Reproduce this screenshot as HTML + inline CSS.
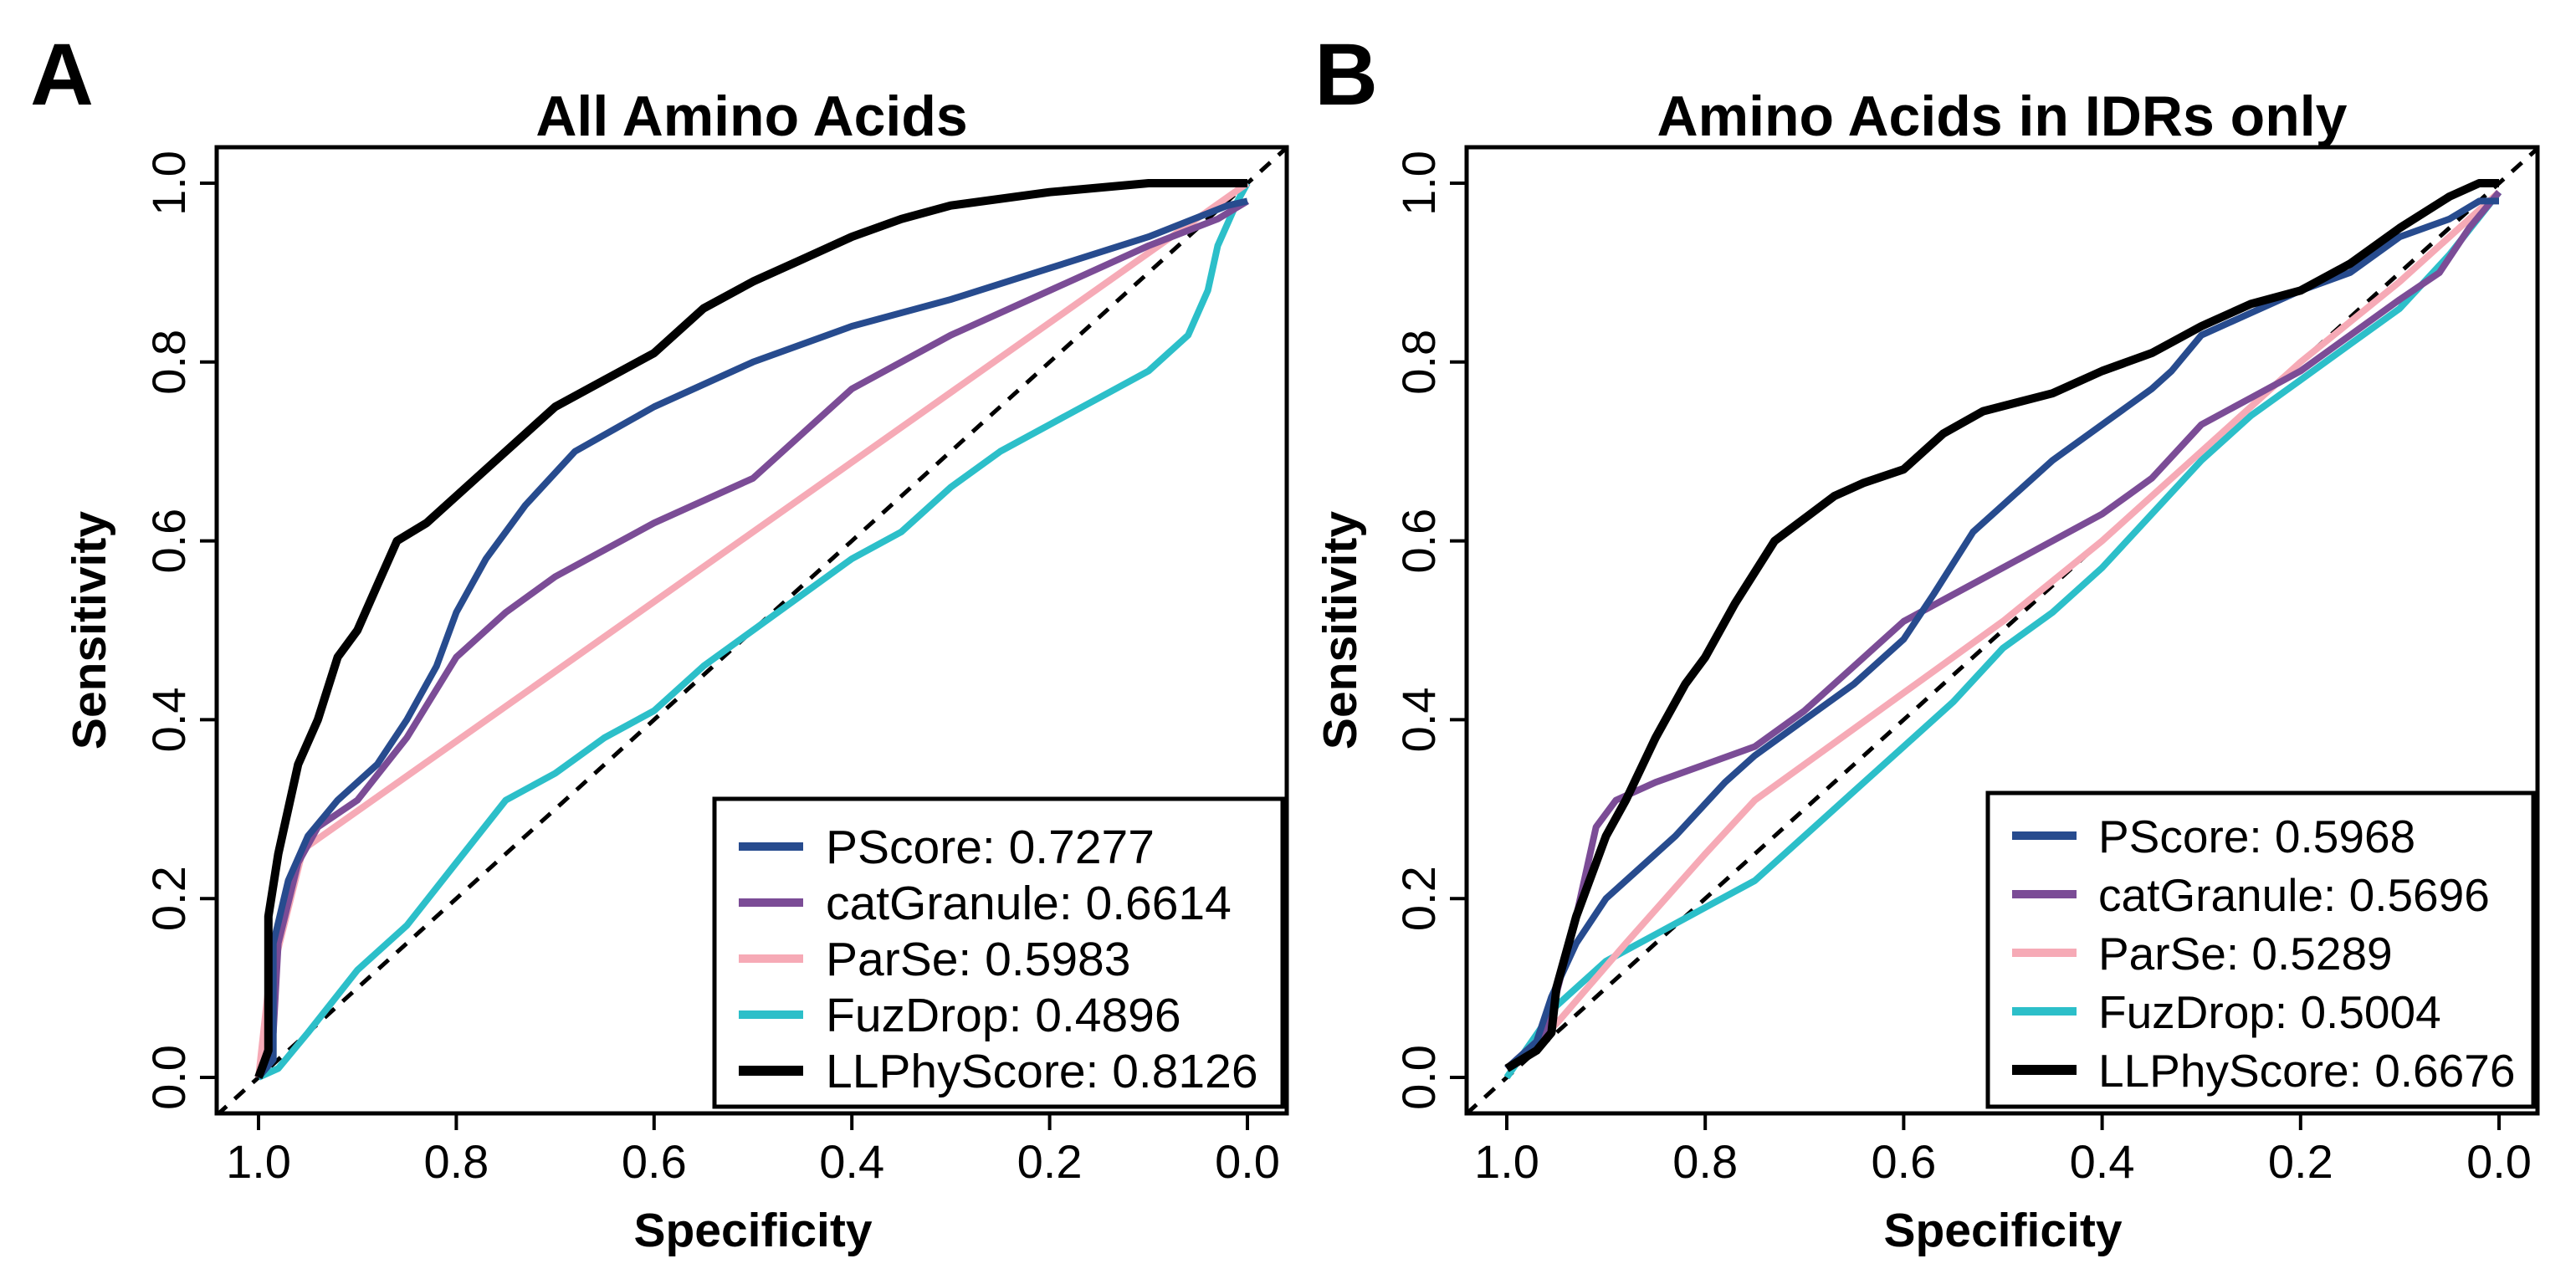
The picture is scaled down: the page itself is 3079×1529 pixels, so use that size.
<!DOCTYPE html>
<html><head><meta charset="utf-8"><style>
html,body{margin:0;padding:0;background:#fff;}
svg{display:block;font-family:"Liberation Sans",Arial,sans-serif;}
</style></head><body>
<svg id="fig" width="3079" height="1529" viewBox="0 0 3079 1529"></svg>
<script>
// ---- data ----
const tickVals = [1.0, 0.8, 0.6, 0.4, 0.2, 0.0];
const tickLabels = ["1.0","0.8","0.6","0.4","0.2","0.0"];
const seriesNames = ["PScore","catGranule","ParSe","FuzDrop","LLPhyScore"];
const seriesColors = ["#274b8e","#7b4c96","#f6aab6","#2cbfc9","#000000"];
const aucA = ["0.7277","0.6614","0.5983","0.4896","0.8126"];
const aucB = ["0.5968","0.5696","0.5289","0.5004","0.6676"];
// Panel A (specificity, sensitivity)
const A_PScore_spec = [1,0.985,0.985,0.97,0.95,0.92,0.88,0.85,0.82,0.80,0.77,0.73,0.68,0.60,0.50,0.40,0.30,0.20,0.10,0.02,0];
const A_PScore_sens = [0,0.02,0.15,0.22,0.27,0.31,0.35,0.40,0.46,0.52,0.58,0.64,0.70,0.75,0.80,0.84,0.87,0.905,0.94,0.975,0.98];
const A_cat_spec = [1,0.985,0.98,0.96,0.94,0.90,0.85,0.80,0.75,0.70,0.60,0.50,0.45,0.40,0.30,0.20,0.10,0.03,0];
const A_cat_sens = [0,0.05,0.15,0.24,0.28,0.31,0.38,0.47,0.52,0.56,0.62,0.67,0.72,0.77,0.83,0.88,0.93,0.96,0.98];
const A_parse_spec = [1,0.99,0.955,0];
const A_parse_sens = [0,0.1,0.255,1.0];
const A_fuz_spec = [1,0.98,0.95,0.90,0.85,0.80,0.75,0.70,0.65,0.60,0.55,0.50,0.45,0.40,0.35,0.30,0.25,0.20,0.15,0.10,0.06,0.04,0.03,0.01,0];
const A_fuz_sens = [0,0.01,0.05,0.12,0.17,0.24,0.31,0.34,0.38,0.41,0.46,0.50,0.54,0.58,0.61,0.66,0.70,0.73,0.76,0.79,0.83,0.88,0.93,0.98,1.0];
const A_ll_spec = [1,0.99,0.99,0.98,0.96,0.94,0.92,0.90,0.88,0.86,0.83,0.80,0.75,0.70,0.65,0.60,0.55,0.50,0.45,0.40,0.35,0.30,0.20,0.10,0];
const A_ll_sens = [0,0.03,0.18,0.25,0.35,0.40,0.47,0.50,0.55,0.60,0.62,0.65,0.70,0.75,0.78,0.81,0.86,0.89,0.915,0.94,0.96,0.975,0.99,1.0,1.0];
// Panel B
const B_PScore_spec = [1,0.97,0.955,0.93,0.90,0.87,0.83,0.78,0.75,0.70,0.65,0.60,0.57,0.53,0.50,0.45,0.40,0.35,0.33,0.30,0.20,0.15,0.10,0.05,0.02,0];
const B_PScore_sens = [0.01,0.04,0.09,0.15,0.20,0.23,0.27,0.33,0.36,0.40,0.44,0.49,0.54,0.61,0.64,0.69,0.73,0.77,0.79,0.83,0.88,0.90,0.94,0.96,0.98,0.98];
const B_cat_spec = [1,0.96,0.93,0.91,0.89,0.85,0.80,0.75,0.70,0.65,0.60,0.55,0.50,0.45,0.40,0.35,0.30,0.25,0.20,0.15,0.10,0.06,0.03,0];
const B_cat_sens = [0.01,0.05,0.18,0.28,0.31,0.33,0.35,0.37,0.41,0.46,0.51,0.54,0.57,0.60,0.63,0.67,0.73,0.76,0.79,0.83,0.87,0.90,0.95,0.99];
const B_parse_spec = [1,0.95,0.88,0.80,0.75,0.60,0.50,0.40,0.30,0.20,0.10,0];
const B_parse_sens = [0.01,0.06,0.15,0.25,0.31,0.43,0.51,0.60,0.70,0.80,0.89,0.99];
const B_fuz_spec = [1,0.95,0.90,0.85,0.80,0.75,0.70,0.65,0.60,0.55,0.50,0.45,0.40,0.35,0.30,0.25,0.20,0.15,0.10,0.05,0];
const B_fuz_sens = [0,0.08,0.13,0.16,0.19,0.22,0.27,0.32,0.37,0.42,0.48,0.52,0.57,0.63,0.69,0.74,0.78,0.82,0.86,0.92,0.99];
const B_ll_spec = [1,0.97,0.955,0.95,0.93,0.90,0.88,0.85,0.82,0.80,0.77,0.73,0.70,0.67,0.64,0.60,0.56,0.52,0.45,0.40,0.35,0.30,0.25,0.20,0.15,0.10,0.05,0.02,0];
const B_ll_sens = [0.01,0.03,0.05,0.10,0.18,0.27,0.31,0.38,0.44,0.47,0.53,0.60,0.625,0.65,0.665,0.68,0.72,0.745,0.765,0.79,0.81,0.84,0.865,0.88,0.91,0.95,0.985,1.0,1.0];

const NS = "http://www.w3.org/2000/svg";
const svg = document.getElementById("fig");
function mk(tag, attrs, parent){const e=document.createElementNS(NS,tag);for(const k in attrs)e.setAttribute(k,attrs[k]);(parent||svg).appendChild(e);return e;}

function panel(cfg){
  const g = mk("g",{});
  
  
  const X = v => cfg.x0 + (1 - v) * (cfg.x1 - cfg.x0);
  const Y = v => cfg.y0 - v * (cfg.y0 - cfg.y1);
  const L = mk("text",{x:cfg.letterX,y:125,"font-size":105,"font-weight":"bold","text-anchor":"middle"},g);
  L.textContent = cfg.letter;
  
  
  const T = mk("text",{x:(cfg.bl+cfg.br)/2,y:162,"font-size":68,"font-weight":"bold","text-anchor":"middle"},g);
  T.textContent = cfg.title;
  
  
  const cid = "clip"+cfg.letter;
  const cp = mk("clipPath",{id:cid},g);
  mk("rect",{x:cfg.bl,y:cfg.bt,width:cfg.br-cfg.bl,height:cfg.bb-cfg.bt},cp);
  const sL = 1 + (cfg.x0 - cfg.bl)/(cfg.x1-cfg.x0), sR = -(cfg.br - cfg.x1)/(cfg.x1-cfg.x0);
  const d = mk("line",{x1:X(sL),y1:Y(1-sL),x2:X(sR),y2:Y(1-sR),stroke:"#000","stroke-width":5,"stroke-dasharray":"16,13","clip-path":"url(#"+cid+")"},g);
  
  
  const order = [3,2,1,0,4];
  order.forEach(i=>{
    const sp = cfg.specs[i], se = cfg.sens[i];
    const pts = sp.map((s,j)=>X(s).toFixed(1)+","+Y(se[j]).toFixed(1)).join(" ");
    const p = mk("polyline",{points:pts,fill:"none",stroke:seriesColors[i],"stroke-width":i==4?10:8,"stroke-linejoin":"round","clip-path":"url(#"+cid+")"},g);
    
    
  });
  const f = mk("rect",{x:cfg.bl,y:cfg.bt,width:cfg.br-cfg.bl,height:cfg.bb-cfg.bt,fill:"none",stroke:"#000","stroke-width":5},g);
  
  
  tickVals.forEach((v,i)=>{
    const t = mk("line",{x1:X(v),y1:cfg.bb,x2:X(v),y2:cfg.bb+20,stroke:"#000","stroke-width":4},g);
    
    
    const tl = mk("text",{x:X(v),y:1408,"font-size":56,"text-anchor":"middle"},g);
    tl.textContent = tickLabels[i];
    
    
    const yt = mk("line",{x1:cfg.bl-20,y1:Y(v),x2:cfg.bl,y2:Y(v),stroke:"#000","stroke-width":4},g);
    
    
    const yl = mk("text",{x:0,y:0,"font-size":56,"text-anchor":"middle",transform:"translate("+(cfg.bl-38)+","+Y(v)+") rotate(-90)"},g);
    yl.textContent = tickLabels[i];
    
    
  });
  const xt = mk("text",{x:(cfg.x0+cfg.x1)/2,y:1490,"font-size":57,"font-weight":"bold","text-anchor":"middle"},g);
  xt.textContent = "Specificity";
  
  
  const yt = mk("text",{x:0,y:0,"font-size":57,"font-weight":"bold","text-anchor":"middle",transform:"translate("+cfg.ytX+","+(cfg.y0+cfg.y1)/2+") rotate(-90)"},g);
  yt.textContent = "Sensitivity";
  
  
  const lg = mk("g",{},g);
  
  
  const lr = mk("rect",{x:cfg.lx,y:cfg.ly,width:cfg.lw,height:cfg.lh,fill:"#fff",stroke:"#000","stroke-width":5},lg);
  
  
  seriesNames.forEach((n,i)=>{
    const yy = cfg.ly0 + i*cfg.lstep;
    const ls = mk("line",{x1:cfg.lx+29,y1:yy,x2:cfg.lx+106,y2:yy,stroke:seriesColors[i],"stroke-width":i==4?12:10},lg);
    
    
    const lt = mk("text",{x:cfg.lx+cfg.ltx,y:yy+20,"font-size":cfg.lfs},lg);
    lt.textContent = n + ": " + cfg.auc[i];
    
    
  });
}

panel({name:"panel-a-all-amino-acids",letter:"A",letterX:74,title:"All Amino Acids",
  bl:259,br:1538,bt:176,bb:1331,x0:309,x1:1491,y0:1288,y1:219,ytX:126,
  lx:854,ly:955,lw:679,lh:368,ly0:1012,lstep:67,ltx:133,lfs:57,auc:aucA,
  specs:[A_PScore_spec,A_cat_spec,A_parse_spec,A_fuz_spec,A_ll_spec],
  sens:[A_PScore_sens,A_cat_sens,A_parse_sens,A_fuz_sens,A_ll_sens]});
panel({name:"panel-b-idr-amino-acids",letter:"B",letterX:1609,title:"Amino Acids in IDRs only",
  bl:1753,br:3033,bt:176,bb:1331,x0:1801,x1:2987,y0:1288,y1:219,ytX:1621,
  lx:2376,ly:948,lw:652,lh:375,ly0:999,lstep:70,ltx:132,lfs:55,auc:aucB,
  specs:[B_PScore_spec,B_cat_spec,B_parse_spec,B_fuz_spec,B_ll_spec],
  sens:[B_PScore_sens,B_cat_sens,B_parse_sens,B_fuz_sens,B_ll_sens]});
</script>
</body></html>
